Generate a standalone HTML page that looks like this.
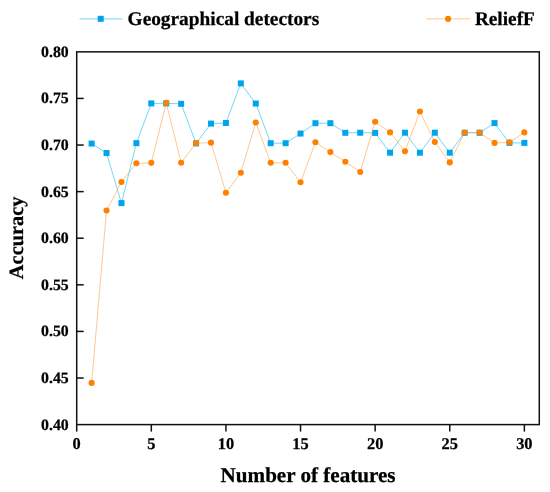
<!DOCTYPE html>
<html><head><meta charset="utf-8"><title>Accuracy vs number of features</title>
<style>
html,body{margin:0;padding:0;background:#fff;}
svg{display:block}
text{font-family:"Liberation Serif","DejaVu Serif",serif;font-weight:bold;fill:#000;stroke:#000;stroke-width:0.25px;text-rendering:geometricPrecision}
.t{font-size:15.8px}
.l{font-size:21.1px}
.g{font-size:19.3px}
</style></head><body>
<svg width="550" height="492" viewBox="0 0 550 492">
<rect width="550" height="492" fill="#fff"/>
<polyline points="91.62,143.55 106.54,153.05 121.47,203.10 136.39,143.15 151.31,103.40 166.23,103.40 181.15,103.80 196.08,143.40 211.00,123.60 225.92,123.00 240.84,83.40 255.76,103.55 270.69,143.20 285.61,143.20 300.53,133.55 315.45,123.20 330.37,123.20 345.30,132.80 360.22,132.75 375.14,132.90 390.06,152.70 404.98,132.70 419.91,152.70 434.83,132.70 449.75,152.70 464.67,132.80 479.59,132.80 494.52,123.10 509.44,142.90 524.36,142.90" fill="none" stroke="#2EC4F6" stroke-width="0.9" stroke-opacity="0.75"/>
<rect x="88.62" y="140.55" width="6" height="6" fill="#00A4EA"/>
<rect x="103.54" y="150.05" width="6" height="6" fill="#00A4EA"/>
<rect x="118.47" y="200.10" width="6" height="6" fill="#00A4EA"/>
<rect x="133.39" y="140.15" width="6" height="6" fill="#00A4EA"/>
<rect x="148.31" y="100.40" width="6" height="6" fill="#00A4EA"/>
<rect x="163.23" y="100.40" width="6" height="6" fill="#00A4EA"/>
<rect x="178.15" y="100.80" width="6" height="6" fill="#00A4EA"/>
<rect x="193.08" y="140.40" width="6" height="6" fill="#00A4EA"/>
<rect x="208.00" y="120.60" width="6" height="6" fill="#00A4EA"/>
<rect x="222.92" y="120.00" width="6" height="6" fill="#00A4EA"/>
<rect x="237.84" y="80.40" width="6" height="6" fill="#00A4EA"/>
<rect x="252.76" y="100.55" width="6" height="6" fill="#00A4EA"/>
<rect x="267.69" y="140.20" width="6" height="6" fill="#00A4EA"/>
<rect x="282.61" y="140.20" width="6" height="6" fill="#00A4EA"/>
<rect x="297.53" y="130.55" width="6" height="6" fill="#00A4EA"/>
<rect x="312.45" y="120.20" width="6" height="6" fill="#00A4EA"/>
<rect x="327.37" y="120.20" width="6" height="6" fill="#00A4EA"/>
<rect x="342.30" y="129.80" width="6" height="6" fill="#00A4EA"/>
<rect x="357.22" y="129.75" width="6" height="6" fill="#00A4EA"/>
<rect x="372.14" y="129.90" width="6" height="6" fill="#00A4EA"/>
<rect x="387.06" y="149.70" width="6" height="6" fill="#00A4EA"/>
<rect x="401.98" y="129.70" width="6" height="6" fill="#00A4EA"/>
<rect x="416.91" y="149.70" width="6" height="6" fill="#00A4EA"/>
<rect x="431.83" y="129.70" width="6" height="6" fill="#00A4EA"/>
<rect x="446.75" y="149.70" width="6" height="6" fill="#00A4EA"/>
<rect x="461.67" y="129.80" width="6" height="6" fill="#00A4EA"/>
<rect x="476.59" y="129.80" width="6" height="6" fill="#00A4EA"/>
<rect x="491.52" y="120.10" width="6" height="6" fill="#00A4EA"/>
<rect x="506.44" y="139.90" width="6" height="6" fill="#00A4EA"/>
<rect x="521.36" y="139.90" width="6" height="6" fill="#00A4EA"/>
<polyline points="91.62,382.90 106.54,210.55 121.47,182.00 136.39,163.25 151.31,162.85 166.23,102.80 181.15,162.80 196.08,143.15 211.00,142.65 225.92,192.70 240.84,172.70 255.76,122.45 270.69,162.75 285.61,162.80 300.53,182.30 315.45,142.30 330.37,152.10 345.30,161.70 360.22,171.95 375.14,121.80 390.06,132.40 404.98,151.30 419.91,111.45 434.83,142.00 449.75,162.40 464.67,132.50 479.59,132.50 494.52,142.90 509.44,142.40 524.36,132.40" fill="none" stroke="#FF9A3C" stroke-width="0.9" stroke-opacity="0.62"/>
<circle cx="91.62" cy="382.90" r="3.05" fill="#FF8000"/>
<circle cx="106.54" cy="210.55" r="3.05" fill="#FF8000"/>
<circle cx="121.47" cy="182.00" r="3.05" fill="#FF8000"/>
<circle cx="136.39" cy="163.25" r="3.05" fill="#FF8000"/>
<circle cx="151.31" cy="162.85" r="3.05" fill="#FF8000"/>
<circle cx="166.23" cy="102.80" r="3.05" fill="#FF8000"/>
<circle cx="181.15" cy="162.80" r="3.05" fill="#FF8000"/>
<circle cx="196.08" cy="143.15" r="3.05" fill="#FF8000"/>
<circle cx="211.00" cy="142.65" r="3.05" fill="#FF8000"/>
<circle cx="225.92" cy="192.70" r="3.05" fill="#FF8000"/>
<circle cx="240.84" cy="172.70" r="3.05" fill="#FF8000"/>
<circle cx="255.76" cy="122.45" r="3.05" fill="#FF8000"/>
<circle cx="270.69" cy="162.75" r="3.05" fill="#FF8000"/>
<circle cx="285.61" cy="162.80" r="3.05" fill="#FF8000"/>
<circle cx="300.53" cy="182.30" r="3.05" fill="#FF8000"/>
<circle cx="315.45" cy="142.30" r="3.05" fill="#FF8000"/>
<circle cx="330.37" cy="152.10" r="3.05" fill="#FF8000"/>
<circle cx="345.30" cy="161.70" r="3.05" fill="#FF8000"/>
<circle cx="360.22" cy="171.95" r="3.05" fill="#FF8000"/>
<circle cx="375.14" cy="121.80" r="3.05" fill="#FF8000"/>
<circle cx="390.06" cy="132.40" r="3.05" fill="#FF8000"/>
<circle cx="404.98" cy="151.30" r="3.05" fill="#FF8000"/>
<circle cx="419.91" cy="111.45" r="3.05" fill="#FF8000"/>
<circle cx="434.83" cy="142.00" r="3.05" fill="#FF8000"/>
<circle cx="449.75" cy="162.40" r="3.05" fill="#FF8000"/>
<circle cx="464.67" cy="132.50" r="3.05" fill="#FF8000"/>
<circle cx="479.59" cy="132.50" r="3.05" fill="#FF8000"/>
<circle cx="494.52" cy="142.90" r="3.05" fill="#FF8000"/>
<circle cx="509.44" cy="142.40" r="3.05" fill="#FF8000"/>
<circle cx="524.36" cy="132.40" r="3.05" fill="#FF8000"/>
<rect x="76.7" y="51.85" width="462.58" height="372.75" fill="none" stroke="#111" stroke-width="1.5"/>
<text class="t" x="68.7" y="429.60" text-anchor="end">0.40</text>
<line x1="76.7" y1="378.01" x2="83.7" y2="378.01" stroke="#111" stroke-width="1.5"/>
<text class="t" x="68.7" y="383.01" text-anchor="end">0.45</text>
<line x1="76.7" y1="331.41" x2="83.7" y2="331.41" stroke="#111" stroke-width="1.5"/>
<text class="t" x="68.7" y="336.41" text-anchor="end">0.50</text>
<line x1="76.7" y1="284.82" x2="83.7" y2="284.82" stroke="#111" stroke-width="1.5"/>
<text class="t" x="68.7" y="289.82" text-anchor="end">0.55</text>
<line x1="76.7" y1="238.22" x2="83.7" y2="238.22" stroke="#111" stroke-width="1.5"/>
<text class="t" x="68.7" y="243.22" text-anchor="end">0.60</text>
<line x1="76.7" y1="191.63" x2="83.7" y2="191.63" stroke="#111" stroke-width="1.5"/>
<text class="t" x="68.7" y="196.63" text-anchor="end">0.65</text>
<line x1="76.7" y1="145.04" x2="83.7" y2="145.04" stroke="#111" stroke-width="1.5"/>
<text class="t" x="68.7" y="150.04" text-anchor="end">0.70</text>
<line x1="76.7" y1="98.44" x2="83.7" y2="98.44" stroke="#111" stroke-width="1.5"/>
<text class="t" x="68.7" y="103.44" text-anchor="end">0.75</text>
<text class="t" x="68.7" y="56.85" text-anchor="end">0.80</text>
<line x1="76.70" y1="424.6" x2="76.70" y2="431.6" stroke="#111" stroke-width="1.5"/>
<text class="t" style="font-size:16.4px" x="76.70" y="449.4" text-anchor="middle">0</text>
<line x1="151.31" y1="424.6" x2="151.31" y2="431.6" stroke="#111" stroke-width="1.5"/>
<text class="t" style="font-size:16.4px" x="151.31" y="449.4" text-anchor="middle">5</text>
<line x1="225.92" y1="424.6" x2="225.92" y2="431.6" stroke="#111" stroke-width="1.5"/>
<text class="t" style="font-size:16.4px" x="225.92" y="449.4" text-anchor="middle">10</text>
<line x1="300.53" y1="424.6" x2="300.53" y2="431.6" stroke="#111" stroke-width="1.5"/>
<text class="t" style="font-size:16.4px" x="300.53" y="449.4" text-anchor="middle">15</text>
<line x1="375.14" y1="424.6" x2="375.14" y2="431.6" stroke="#111" stroke-width="1.5"/>
<text class="t" style="font-size:16.4px" x="375.14" y="449.4" text-anchor="middle">20</text>
<line x1="449.75" y1="424.6" x2="449.75" y2="431.6" stroke="#111" stroke-width="1.5"/>
<text class="t" style="font-size:16.4px" x="449.75" y="449.4" text-anchor="middle">25</text>
<line x1="524.36" y1="424.6" x2="524.36" y2="431.6" stroke="#111" stroke-width="1.5"/>
<text class="t" style="font-size:16.4px" x="524.36" y="449.4" text-anchor="middle">30</text>
<text class="l" x="308.1" y="481.5" text-anchor="middle">Number of features</text>
<text class="l" style="font-size:20.4px" transform="translate(23.2,237.8) rotate(-90)" text-anchor="middle">Accuracy</text>
<line x1="79.5" y1="18.9" x2="122.5" y2="18.9" stroke="#2EC4F6" stroke-width="0.9" stroke-opacity="0.75"/>
<rect x="97.7" y="15.8" width="6" height="6" fill="#00A4EA"/>
<text class="g" style="font-size:19.34px" x="127.6" y="25.3">Geographical detectors</text>
<line x1="426.5" y1="18.9" x2="469.8" y2="18.9" stroke="#FF9A3C" stroke-width="0.9" stroke-opacity="0.62"/>
<circle cx="448.1" cy="18.9" r="3.05" fill="#FF8000"/>
<text class="g" x="474.9" y="25.3">ReliefF</text>
</svg></body></html>
